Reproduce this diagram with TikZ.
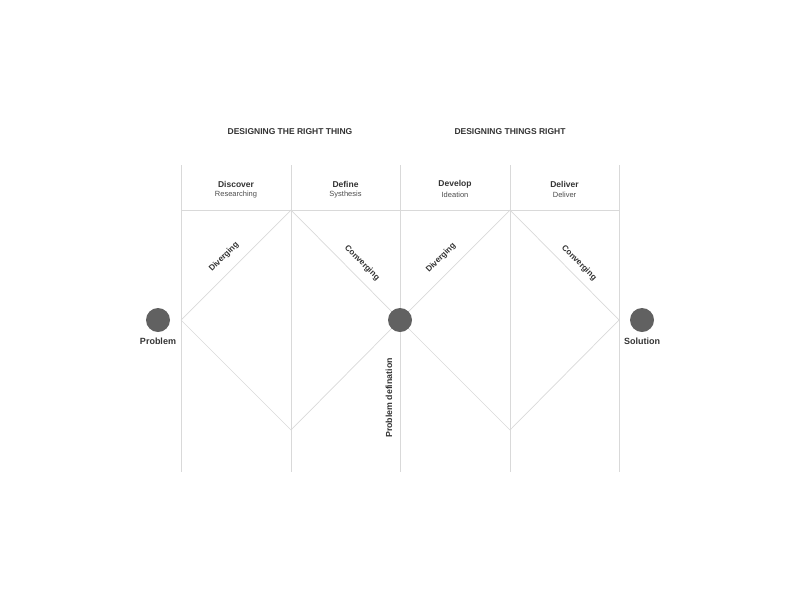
\documentclass[tikz,border=0pt]{standalone}
\usepackage{fontspec}
\setmainfont{Liberation Sans}
\begin{document}
\begin{tikzpicture}[x=1pt,y=-1pt,
  grid/.style={draw=black!15,line width=0.7pt},
  dot/.style={circle,fill=black!62,minimum size=24pt,inner sep=0pt},
  hdr/.style={font=\fontsize{8.5}{10}\selectfont\bfseries,text=black!80},
  ttl/.style={font=\fontsize{8.5}{10}\selectfont\bfseries,text=black!80,align=center},
  lbl/.style={font=\fontsize{8.2}{9}\selectfont\bfseries,text=black!80,inner sep=1pt},
  sub/.style={font=\fontsize{7.5}{9}\selectfont,text=black!70}]
\useasboundingbox (0,0) rectangle (800,600);
% grid coordinates
\foreach \n/\x in {a/181,b/291,c/400,d/510,e/619}{
  \coordinate (\n-top) at (\x,165);
  \coordinate (\n-bot) at (\x,472);
  \coordinate (\n-up) at (\x,210);
  \coordinate (\n-mid) at (\x,320);
  \coordinate (\n-low) at (\x,430);
}
\foreach \n in {a,b,c,d,e} \draw[grid] (\n-top) -- (\n-bot);
\draw[grid] (a-up) -- (e-up);
% diamonds
\draw[grid] (a-mid) -- (b-up) -- (c-mid) -- (b-low) -- cycle;
\draw[grid] (c-mid) -- (d-up) -- (e-mid) -- (d-low) -- cycle;
% dots
\node[dot] (prob) at (158,320) {};
\node[dot] (def) at (400,320) {};
\node[dot] (sol) at (642,320) {};
\node[lbl,font=\fontsize{9}{10}\selectfont\bfseries] (probt) at (158,341) {Problem};
\node[lbl,font=\fontsize{9}{10}\selectfont\bfseries] (solt) at (642,341) {Solution};
\node[lbl,rotate=90,font=\fontsize{8.8}{10}\selectfont\bfseries] (deft) at (389,398) {Problem defination};
% headers
\node[hdr] (h1) at (290,132) {DESIGNING THE RIGHT THING};
\node[hdr] (h2) at (510,132) {DESIGNING THINGS RIGHT};
% column titles
\node[ttl] (t1) at (236,184) {Discover};
\node[sub] (s1) at (236,195) {Researching};
\node[ttl] (t2) at (345.5,184) {Define};
\node[sub] (s2) at (345.5,195) {Systhesis};
\node[ttl] (t3) at (455,184) {Develop};
\node[sub] (s3) at (455,195) {Ideation};
\node[ttl] (t4) at (564.5,184) {Deliver};
\node[sub] (s4) at (564.5,195) {Deliver};
% edge labels
\node[lbl,rotate=45] (dv1) at (224,257) {Diverging};
\node[lbl,rotate=-45] (cv1) at (362,263) {Converging};
\node[lbl,rotate=45] (dv2) at (441,258) {Diverging};
\node[lbl,rotate=-45] (cv2) at (579,263) {Converging};
\end{tikzpicture}
\end{document}
